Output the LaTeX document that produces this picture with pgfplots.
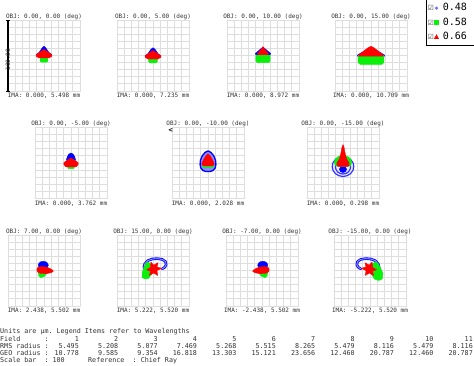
\documentclass[border=0pt]{standalone}
\usepackage{fontspec}
\setmonofont{DejaVu Sans Mono}
\newfontfamily\dejavu{DejaVu Sans}
\usepackage{pgfplots}
\pgfplotsset{compat=1.18}
\definecolor{zblue}{RGB}{0,0,255}
\definecolor{zgreen}{RGB}{10,240,10}
\definecolor{zred}{RGB}{255,0,0}
\definecolor{txt}{RGB}{50,50,50}
\newcommand{\lblfont}{\ttfamily\fontsize{6}{7}\selectfont}
\newcommand{\tabfont}{\ttfamily\fontsize{6.7}{8}\selectfont}
\newcommand{\legfont}{\ttfamily\fontsize{10}{12}\selectfont}
\pgfplotsset{
  spot/.style={scale only axis, width=72pt, height=71pt, anchor=north west,
    xmin=-50, xmax=50, ymin=-50, ymax=50,
    xtick={-40,-30,...,40}, ytick={-40,-30,...,40},
    xticklabels={}, yticklabels={}, tick style={draw=none},
    grid=major, major grid style={draw=black!13, line width=0.9pt},
    axis line style={draw=black!13, line width=0.9pt}, clip=false},
  sb/.style={draw=zblue, fill=zblue, line width=0.4pt, line join=round},
  sg/.style={draw=zgreen, fill=zgreen, line width=0.4pt, line join=round},
  sr/.style={draw=zred, fill=zred, line width=0.4pt, line join=round},
}
\newcommand{\lbls}[2]{%
  \node[font=\lblfont, text=txt, anchor=base, inner sep=0pt, yshift=1.8pt] at (rel axis cs:0.5,1) {#1};
  \node[font=\lblfont, text=txt, anchor=base, inner sep=0pt, yshift=-7pt] at (rel axis cs:0.5,0) {#2};}
\newcommand{\tabrow}[3]{%
  \node[font=\tabfont, text=txt, anchor=base west, inner sep=0pt] at (0pt,-#1pt) {#2};
  \foreach \v [count=\i] in {#3} {\node[font=\tabfont, text=txt, anchor=base east, inner sep=0pt] at ({(79+39.4*(\i-1))*1pt},-#1pt) {\v};}}
\begin{document}
\begin{tikzpicture}
\path[use as bounding box] (0pt,0pt) rectangle (474pt,-366pt);

% hidden full-size axis carrying the legend
\begin{axis}[at={(0pt,0pt)}, anchor=north west, scale only axis, width=474pt, height=366pt,
  hide axis, xmin=0, xmax=474, ymin=-366, ymax=0,
  legend style={at={(axis description cs:0.8987,1.002)}, anchor=north west, draw=black,
    line width=1.2pt, fill=white, font=\legfont, inner xsep=1pt, inner ysep=1pt,
    row sep=0pt, column sep=2pt, nodes={inner sep=2pt, text height=8pt, text depth=2.5pt}},
  legend cell align=left]
\addlegendimage{legend image code/.code={\node[font=\dejavu\fontsize{7}{7}\selectfont, text=black!70, inner sep=0pt, anchor=west] at (0pt,0pt) {☑}; \fill[zblue!55] (9.5pt,0pt) circle (1pt);}}
\addlegendentry{0.48\rule{14pt}{0pt}}
\addlegendimage{legend image code/.code={\node[font=\dejavu\fontsize{7}{7}\selectfont, text=black!70, inner sep=0pt, anchor=west] at (0pt,0pt) {☑}; \fill[zgreen] (7.8pt,-1.7pt) rectangle (11.2pt,1.7pt);}}
\addlegendentry{0.58\rule{14pt}{0pt}}
\addlegendimage{legend image code/.code={\node[font=\dejavu\fontsize{7}{7}\selectfont, text=black!70, inner sep=0pt, anchor=west] at (0pt,0pt) {☑}; \fill[zred] (8pt,-1.2pt) -- (11pt,-1.2pt) -- (9.5pt,1.6pt) -- cycle;}}
\addlegendentry{0.66\rule{14pt}{0pt}}
\end{axis}

% ---------- Row 1 ----------
\begin{axis}[spot, at={(8pt,-20pt)}]
\addplot[sb] coordinates {(0,13) (-3,10) (-7,4) (-11,1) (-10,-1) (10,-1) (11,1) (7,4) (3,10)} -- cycle;
\addplot[sg] coordinates {(-5.5,-2) (5.5,-2) (5.5,-7.5) (3.5,-9.5) (-3.5,-9.5) (-5.5,-7.5)} -- cycle;
\addplot[sr] coordinates {(0,8.5) (-4,6) (-8,3) (-11,1) (-11,-1) (-7,-3.5) (7,-3.5) (11,-1) (11,1) (8,3) (4,6)} -- cycle;
\lbls{OBJ: 0.00, 0.00 (deg)}{IMA: 0.000, 5.498 mm}
\draw[black, line width=1.1pt] (axis cs:-50,-50) -- (axis cs:-50,50);
\draw[black, line width=0.8pt] (axis cs:-52.5,50) -- (axis cs:-47.5,50);
\draw[black, line width=0.8pt] (axis cs:-52.5,-50) -- (axis cs:-47.5,-50);
\node[font=\lblfont, text=txt, rotate=90, inner sep=0pt, xshift=-2.7pt] at (axis cs:-50,-2) {100.00};
\end{axis}

\begin{axis}[spot, at={(117pt,-20pt)}]
\addplot[sb] coordinates {(0,11) (-3,8.5) (-7,2.5) (-11,-0.5) (-10,-2.5) (10,-2.5) (11,-0.5) (7,2.5) (3,8.5)} -- cycle;
\addplot[sg] coordinates {(-6,-4) (6,-4) (6,-8.5) (4,-10.5) (-4,-10.5) (-6,-8.5)} -- cycle;
\addplot[sr] coordinates {(0,7) (-4,4.5) (-8,1.5) (-11,-0.5) (-11,-2.5) (-7,-5) (7,-5) (11,-2.5) (11,-0.5) (8,1.5) (4,4.5)} -- cycle;
\lbls{OBJ: 0.00, 5.00 (deg)}{IMA: 0.000, 7.235 mm}
\end{axis}

\begin{axis}[spot, at={(227pt,-20pt)}]
\addplot[sb] coordinates {(0,12) (-11,2.5) (-9,0.5) (9,0.5) (11,2.5)} -- cycle;
\addplot[sg] coordinates {(-10,0.5) (10,0.5) (10,-8) (8,-10) (-8,-10) (-10,-8)} -- cycle;
\addplot[sr] coordinates {(0,12.5) (-3,8) (-7.5,3) (-7,1) (7,1) (7.5,3) (3,8)} -- cycle;
\lbls{OBJ: 0.00, 10.00 (deg)}{IMA: 0.000, 8.972 mm}
\end{axis}

\begin{axis}[spot, at={(335pt,-20pt)}]
\addplot[sb] coordinates {(0,12) (-19,0.5) (-19,-1) (19,-1) (19,0.5)} -- cycle;
\addplot[sg] coordinates {(-18,0) (18,0) (18,-10) (15,-12.5) (-15,-12.5) (-18,-10)} -- cycle;
\addplot[sr] coordinates {(0,13) (-4,11) (-12,4.5) (-17,1) (-17,-1) (17,-1) (17,1) (12,4.5) (4,11)} -- cycle;
\lbls{OBJ: 0.00, 15.00 (deg)}{IMA: 0.000, 10.709 mm}
\end{axis}

% ---------- Row 2 ----------
\begin{axis}[spot, at={(35pt,-127.5pt)}]
\addplot[sb] coordinates {(0,14) (-3,12.5) (-5,9) (-6.5,4) (6.5,4) (5,9) (3,12.5)} -- cycle;
\addplot[sg] coordinates {(-5,-3) (5,-3) (4,-8) (-4,-8)} -- cycle;
\addplot[sr] coordinates {(0,7) (-5,4) (-10,0.5) (-10,-2) (-7,-5.5) (7,-5.5) (10,-2) (10,0.5) (5,4)} -- cycle;
\lbls{OBJ: 0.00, -5.00 (deg)}{IMA: 0.000, 3.762 mm}
\end{axis}

\begin{axis}[spot, at={(172pt,-127.5pt)}]
\addplot[draw=zblue, fill=zblue!45, line width=1.3pt, line join=round] coordinates {(0,17) (-4,15) (-8,10) (-10.5,4) (-11,-2) (-10,-7) (-7,-10.5) (-3,-12) (3,-12) (7,-10.5) (10,-7) (11,-2) (10.5,4) (8,10) (4,15)} -- cycle;
\addplot[sg] coordinates {(-8.5,-2) (8.5,-2) (7,-6) (-7,-6)} -- cycle;
\addplot[sr] coordinates {(0,13) (-3,10) (-6,5) (-8.5,0) (-8.5,-2.5) (-6,-4) (6,-4) (8.5,-2.5) (8.5,0) (6,5) (3,10)} -- cycle;
\lbls{OBJ: 0.00, -10.00 (deg)}{IMA: 0.000, 2.028 mm}
\end{axis}

\begin{axis}[spot, at={(307pt,-127.5pt)}]
\addplot[draw=zblue!80, fill=zblue!8, line width=1.2pt] coordinates {(15,-5) (13.9,0.4) (10.6,4.9) (5.7,7.9) (0,9) (-5.7,7.9) (-10.6,4.9) (-13.9,0.4) (-15,-5) (-13.9,-10.4) (-10.6,-14.9) (-5.7,-17.9) (0,-19) (5.7,-17.9) (10.6,-14.9) (13.9,-10.4)} -- cycle;
\addplot[draw=zblue!80, line width=1.2pt] coordinates {(10.5,-5.5) (9.7,-1.7) (7.4,1.6) (4,3.7) (0,4.5) (-4,3.7) (-7.4,1.6) (-9.7,-1.7) (-10.5,-5.5) (-9.7,-9.3) (-7.4,-12.6) (-4,-14.7) (0,-15.5) (4,-14.7) (7.4,-12.6) (9.7,-9.3)} -- cycle;
\addplot[sb] coordinates {(5,-9) (3.5,-5.8) (0,-4.5) (-3.5,-5.8) (-5,-9) (-3.5,-12.2) (0,-13.5) (3.5,-12.2)} -- cycle;
\addplot[sg] coordinates {(0,10.5) (-6,9.5) (-10.5,6) (-12,1) (-11,-3) (-7,-5) (7,-5) (11,-3) (12,1) (10.5,6) (6,9.5)} -- cycle;
\addplot[sr] coordinates {(0,26) (-1.5,22) (-2.5,16) (-4,9) (-6,4) (-8.5,0) (-8.5,-3) (-6,-5) (6,-5) (8.5,-3) (8.5,0) (6,4) (4,9) (2.5,16) (1.5,22)} -- cycle;
\lbls{OBJ: 0.00, -15.00 (deg)}{IMA: 0.000, 0.298 mm}
\end{axis}

% ---------- Row 3 ----------
\begin{axis}[spot, at={(8pt,-235pt)}]
\addplot[sb] coordinates {(6,7.5) (5.06,10.25) (2.5,12.26) (-1,13) (-4.5,12.26) (-7.06,10.25) (-8,7.5) (-7.06,4.75) (-4.5,2.74) (-1,2) (2.5,2.74) (5.06,4.75)} -- cycle;
\addplot[sg] coordinates {(-8,-1) (3,-1) (4,-4) (1,-8) (-4,-10) (-7,-8) (-8,-4)} -- cycle;
\addplot[sr] coordinates {(-9,4) (-4,5.5) (3,5) (8,3) (12,0.5) (13,-1) (10,-3) (3,-4.5) (-5,-4) (-9,-2) (-10,1)} -- cycle;
\lbls{OBJ: 7.00, 0.00 (deg)}{IMA: 2.438, 5.502 mm}
\end{axis}

\begin{axis}[spot, at={(117pt,-235pt)}]
\addplot[draw=zblue, line width=2.6pt, line cap=round, line join=round] coordinates {(-12.8,3.8) (-11.4,9.3) (-7.2,13.9) (-1.1,16.2) (5.8,16.7) (12.8,15.7) (17.4,12.5) (18.3,8.3) (16.4,4.6) (12.8,2.4)};
\addplot[draw=zblue!35, line width=0.8pt, line cap=round, line join=round] coordinates {(-12.8,3.8) (-11.4,9.3) (-7.2,13.9) (-1.1,16.2) (5.8,16.7) (12.8,15.7) (17.4,12.5) (18.3,8.3) (16.4,4.6) (12.8,2.4)};
\addplot[sg] coordinates {(-7,12) (-3,9) (-2,2) (-2,-5) (-6,-11) (-11,-12) (-15,-10) (-15,-3) (-12,5) (-10,10)} -- cycle;
\addplot[sr] coordinates {(-3,12) (1,7.5) (7,11) (5.5,5) (12,3) (5.5,0) (6.5,-7) (1,-3.5) (-5,-7) (-3.5,-1) (-9,1) (-3.5,4.5)} -- cycle;
\lbls{OBJ: 15.00, 0.00 (deg)}{IMA: 5.222, 5.520 mm}
\end{axis}

\begin{axis}[spot, at={(226pt,-235pt)}]
\addplot[sb] coordinates {(-6,7.5) (-5.06,10.25) (-2.5,12.26) (1,13) (4.5,12.26) (7.06,10.25) (8,7.5) (7.06,4.75) (4.5,2.74) (1,2) (-2.5,2.74) (-5.06,4.75)} -- cycle;
\addplot[sg] coordinates {(8,-1) (-3,-1) (-4,-4) (-1,-8) (4,-10) (7,-8) (8,-4)} -- cycle;
\addplot[sr] coordinates {(9,4) (4,5.5) (-3,5) (-8,3) (-12,0.5) (-13,-1) (-10,-3) (-3,-4.5) (5,-4) (9,-2) (10,1)} -- cycle;
\lbls{OBJ: -7.00, 0.00 (deg)}{IMA: -2.438, 5.502 mm}
\end{axis}

\begin{axis}[spot, at={(334pt,-235pt)}]
\addplot[draw=zblue, line width=2.6pt, line cap=round, line join=round] coordinates {(12.8,3.8) (11.4,9.3) (7.2,13.9) (1.1,16.2) (-5.8,16.7) (-12.8,15.7) (-17.4,12.5) (-18.3,8.3) (-16.4,4.6) (-12.8,2.4)};
\addplot[draw=zblue!35, line width=0.8pt, line cap=round, line join=round] coordinates {(12.8,3.8) (11.4,9.3) (7.2,13.9) (1.1,16.2) (-5.8,16.7) (-12.8,15.7) (-17.4,12.5) (-18.3,8.3) (-16.4,4.6) (-12.8,2.4)};
\addplot[sg] coordinates {(7,12) (3,9) (2,2) (2,-5) (6,-12) (12,-14) (17,-12) (18,-4) (14,5) (11,10)} -- cycle;
\addplot[sr] coordinates {(3,12) (-1,7.5) (-7,11) (-5.5,5) (-12,3) (-5.5,0) (-6.5,-7) (-1,-3.5) (5,-7) (3.5,-1) (9,1) (3.5,4.5)} -- cycle;
\lbls{OBJ: -15.00, 0.00 (deg)}{IMA: -5.222, 5.520 mm}
\end{axis}

% artifact
\node[font=\ttfamily\bfseries\fontsize{7}{8}\selectfont, inner sep=0pt] at (170.7pt,-130.7pt) {<};

% ---------- Text table ----------
\node[font=\tabfont, text=txt, anchor=base west, inner sep=0pt] at (0pt,-333.5pt) {Units are µm. Legend Items refer to Wavelengths};
\node[font=\tabfont, text=txt, anchor=base west, inner sep=0pt] at (0pt,-341pt) {Field};
\node[font=\tabfont, text=txt, anchor=base west, inner sep=0pt] at (44.3pt,-341pt) {:};
\foreach \v [count=\i] in {1,2,3,4,5,6,7,8,9,10,11} {\node[font=\tabfont, text=txt, anchor=base east, inner sep=0pt] at ({(79+39.4*(\i-1))*1pt},-341pt) {\v};}
\tabrow{348.5}{RMS radius :}{5.495,5.208,5.077,7.469,5.268,5.515,8.265,5.479,8.116,5.479,8.116}
\tabrow{355.5}{GEO radius :}{10.778,9.585,9.354,16.818,13.303,15.121,23.656,12.460,20.787,12.460,20.787}
\node[font=\tabfont, text=txt, anchor=base west, inner sep=0pt] at (0pt,-362.5pt) {Scale bar};
\node[font=\tabfont, text=txt, anchor=base west, inner sep=0pt] at (44.3pt,-362.5pt) {: 100};
\node[font=\tabfont, text=txt, anchor=base west, inner sep=0pt] at (88pt,-362.5pt) {Reference};
\node[font=\tabfont, text=txt, anchor=base west, inner sep=0pt] at (132.5pt,-362.5pt) {: Chief Ray};
\end{tikzpicture}
\end{document}
